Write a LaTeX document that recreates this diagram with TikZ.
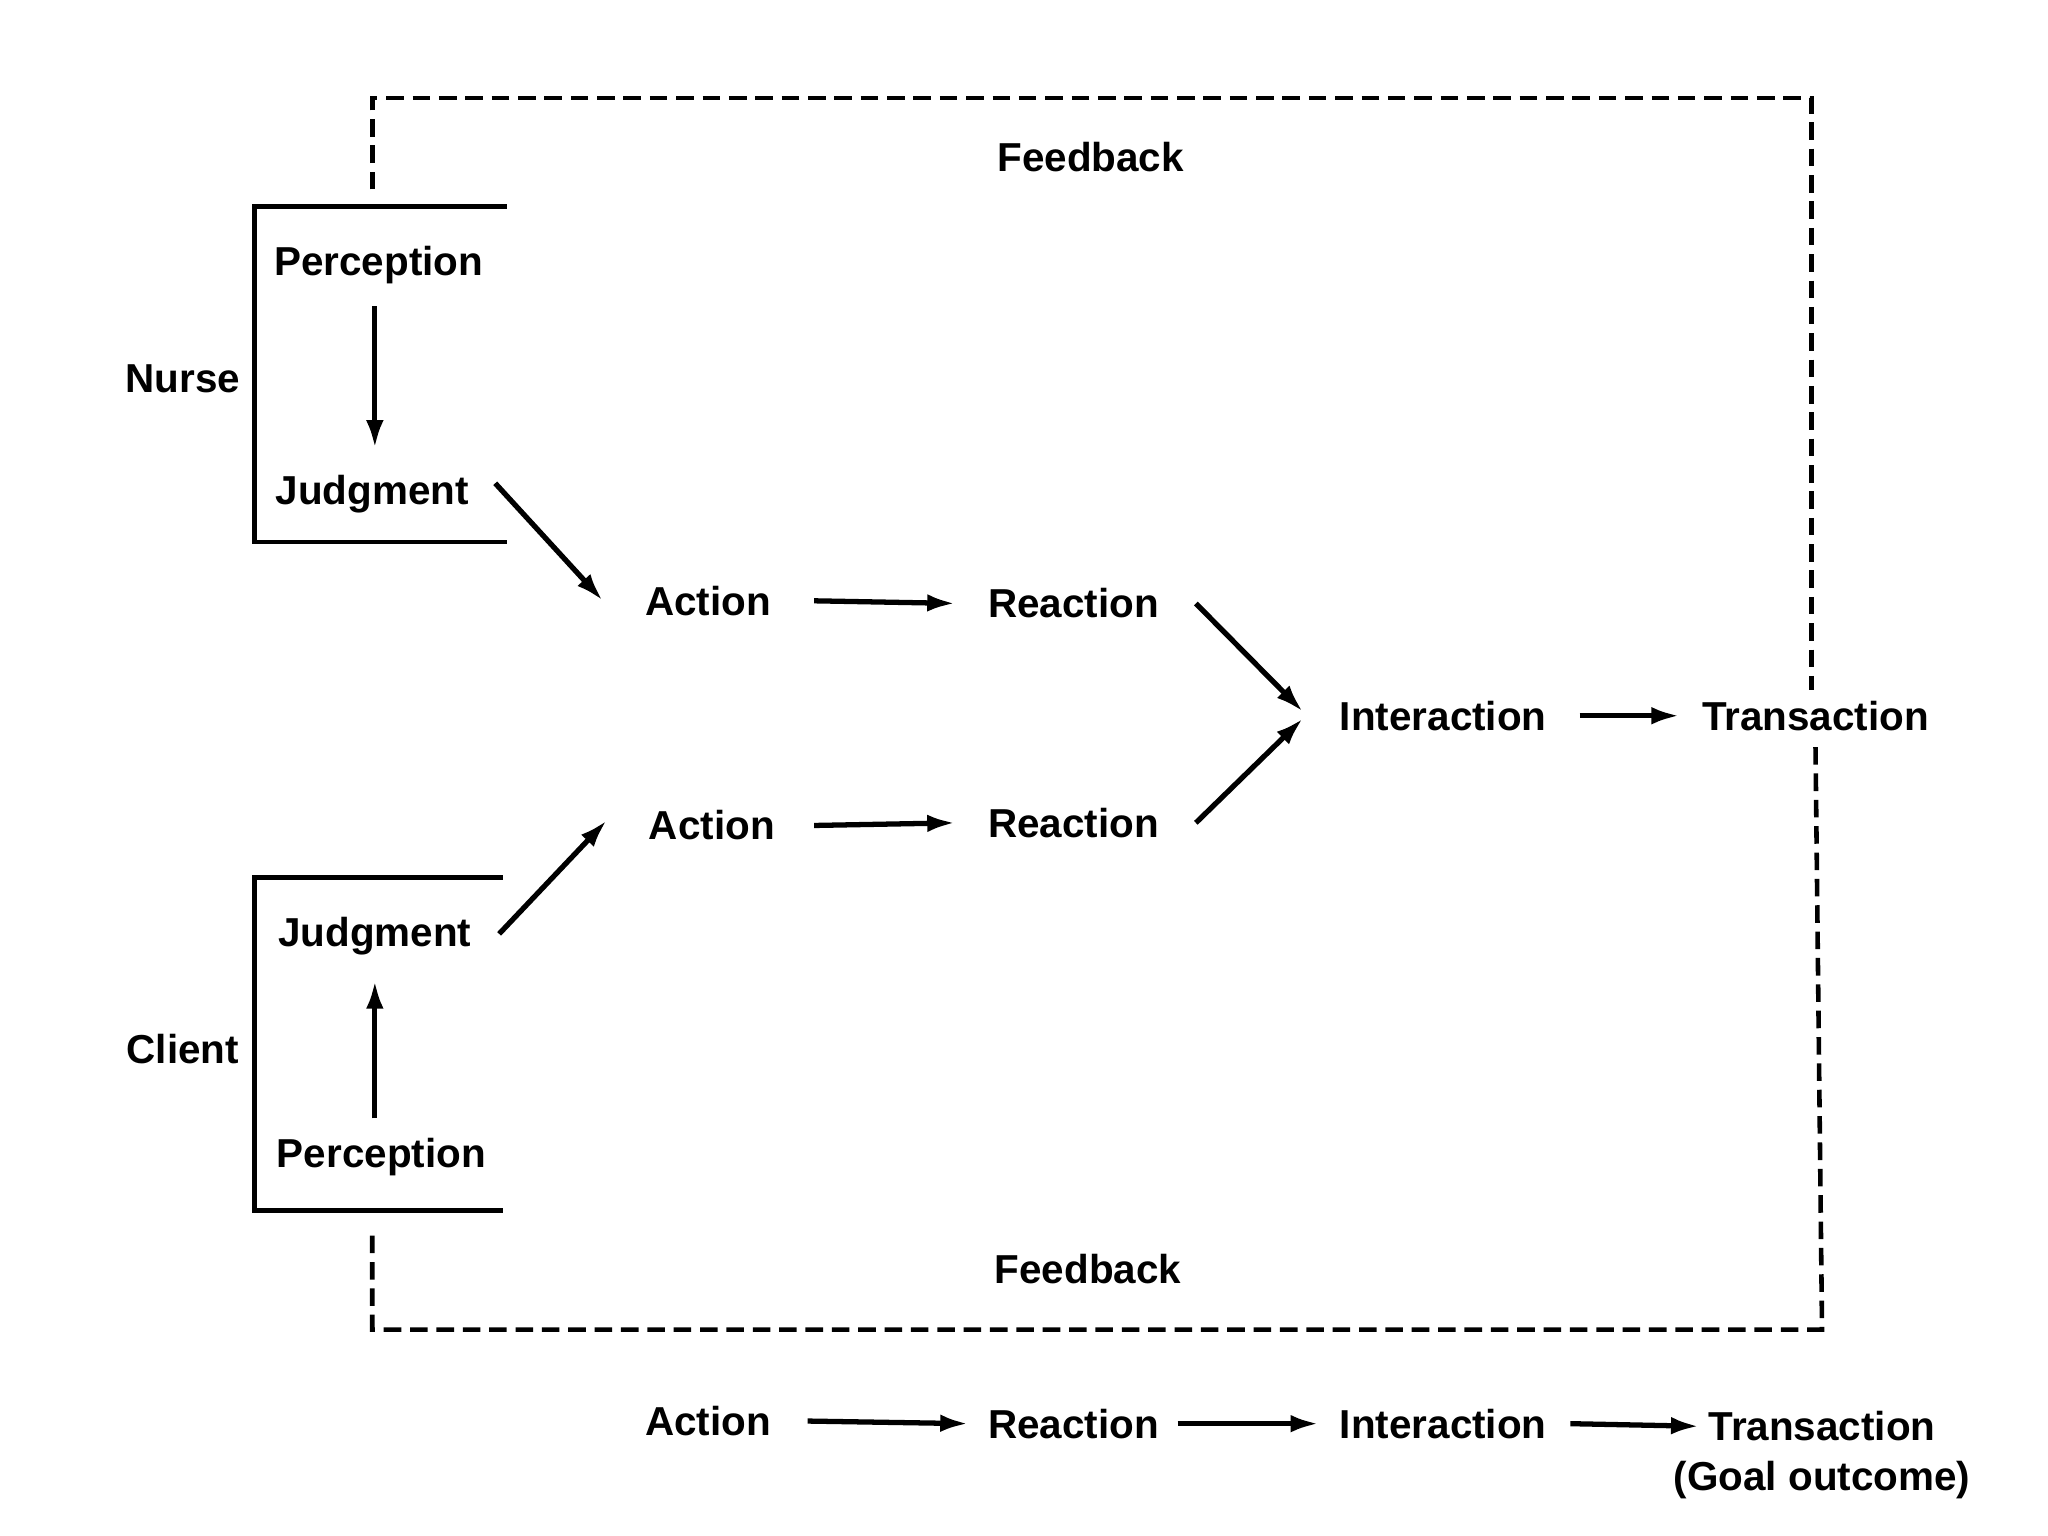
\documentclass[tikz,border=0pt]{standalone}
\usepackage{fontspec}
\setmainfont{Liberation Sans}
\usetikzlibrary{arrows.meta}
\begin{document}
\begin{tikzpicture}[x=0.01306cm, y=-0.01306cm,
	lbl/.style={font=\fontsize{11.5}{13}\selectfont\bfseries, inner sep=1pt},
	arr/.style={line width=1.5pt, -{Latex[length=8pt,width=5pt]}},
	fb/.style={line width=1.3pt, dash pattern=on 5pt off 2.5pt},
	brk/.style={line width=1.3pt}]
	\useasboundingbox (0,0) rectangle (1568,1176);
	
	\coordinate (F1) at (285,145);
	\coordinate (F2) at (285,75);
	\coordinate (F3) at (1387,75);
	\coordinate (F4) at (1387,528);
	\coordinate (F5) at (1390,572);
	\coordinate (F6) at (1395,1018);
	\coordinate (F7) at (285,1018);
	\coordinate (F8) at (285,945);
	
	\node[lbl] (fbtop) at (835,120) {Feedback};
	\node[lbl] (fbbot) at (833,972) {Feedback};
	\node[lbl] (nurse) at (140,290) {Nurse};
	\node[lbl] (client) at (140,803) {Client};
	\node[lbl] (np) at (290,203) {Perception};
	\node[lbl] (nj) at (285,378) {Judgment};
	\node[lbl] (cj) at (287,717) {Judgment};
	\node[lbl] (cp) at (292,886) {Perception};
	\node[lbl] (na) at (542,460) {Action};
	\node[lbl] (nr) at (822,462) {Reaction};
	\node[lbl] (ca) at (545,632) {Action};
	\node[lbl] (cr) at (822,630) {Reaction};
	\node[lbl] (inter) at (1105,548) {Interaction};
	\node[lbl] (trans) at (1390,548) {Transaction};
	
	\node[lbl] (ba) at (542,1088) {Action};
	\node[lbl] (br) at (822,1090) {Reaction};
	\node[lbl] (bi) at (1105,1090) {Interaction};
	\node[lbl] (bt) at (1395,1092) {Transaction};
	\node[lbl] (bg) at (1395,1133) {(Goal outcome)};
	
	% feedback loop
	\draw[fb] (F1) -- (F2) -- (F3) -- (F4);
	\draw[fb] (F5) -- (F6) -- (F7) -- (F8);
	
	% brackets
	\draw[brk] (388,158) -- (195,158) -- (195,415) -- (388,415);
	\draw[brk] (385,672) -- (195,672) -- (195,927) -- (385,927);
	
	\draw[arr] ([shift={(-3,14)}]np.south) -- ([shift={(2,-17)}]nj.north);
	\draw[arr] ([shift={(-5,-12)}]cp.north) -- ([shift={(0,16)}]cj.south);
	\draw[arr] ([shift={(17,-8)}]nj.east) -- ([shift={(-29,0)}]na.west);
	\draw[arr] ([shift={(18,-2)}]cj.east) -- ([shift={(-29,-4)}]ca.west);
	\draw[arr] ([shift={(30,0)}]na.east) -- ([shift={(-22,0)}]nr.west);
	\draw[arr] ([shift={(27,0)}]ca.east) -- ([shift={(-22,0)}]cr.west);
	\draw[arr] ([shift={(25,0)}]nr.east) -- ([shift={(-25,-3)}]inter.west);
	\draw[arr] ([shift={(25,0)}]cr.east) -- ([shift={(-25,2)}]inter.west);
	\draw[arr] ([shift={(22,0)}]inter.east) -- ([shift={(-14,0)}]trans.west);
	
	\draw[arr] ([shift={(25,0)}]ba.east) -- ([shift={(-12,0)}]br.west);
	\draw[arr] ([shift={(11,0)}]br.east) -- ([shift={(-13,0)}]bi.west);
	\draw[arr] ([shift={(15,0)}]bi.east) -- ([shift={(-4,0)}]bt.west);
\end{tikzpicture}
\end{document}
